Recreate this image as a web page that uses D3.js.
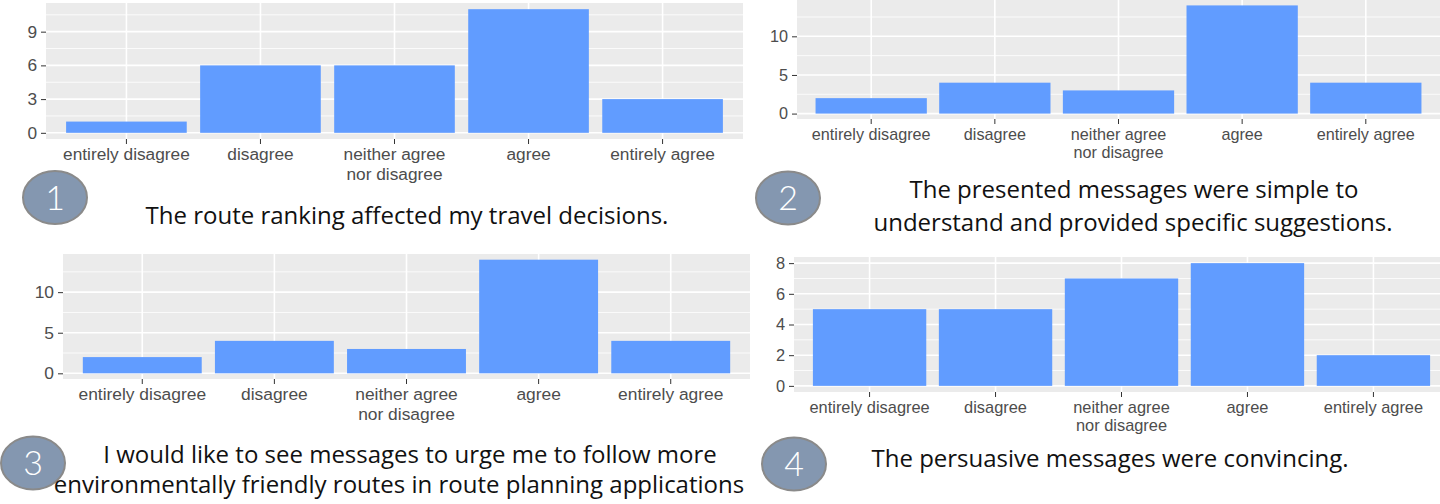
<!DOCTYPE html>
<html>
<head>
<meta charset="utf-8">
<script src="https://cdn.jsdelivr.net/npm/d3@7"></script>
<style>
  html, body { margin: 0; padding: 0; background: #fff; }
  svg { display: block; }
  .axis text { font-family: "Liberation Sans", Arial, sans-serif; fill: #4d4d4d; }
  .axis line { stroke: #333; }
  .caption { font-family: "Open Sans", "Noto Sans", sans-serif; fill: #111; }
  .badge-num { font-family: Lato, "Open Sans", sans-serif; font-weight: 300; fill: #fff; }
</style>
</head>
<body>
<svg id="chart" width="1440" height="504"></svg>
<script>
(function () {
  "use strict";

  // answer scale (shared x categories)
  var CATEGORIES = ["entirely disagree", "disagree", "neither agree\nnor disagree", "agree", "entirely agree"];

  // counts per question
  var Q1_COUNTS = [1, 6, 6, 11, 3];
  var Q2_COUNTS = [2, 4, 3, 14, 4];
  var Q3_COUNTS = [2, 4, 3, 14, 4];
  var Q4_COUNTS = [5, 5, 7, 8, 2];

  // y tick labels
  var Q1_TICKS = [0, 3, 6, 9];
  var Q2_TICKS = [0, 5, 10];
  var Q3_TICKS = [0, 5, 10];
  var Q4_TICKS = [0, 2, 4, 6, 8];

  // question texts
  var Q1_TEXT = ["The route ranking affected my travel decisions."];
  var Q2_TEXT = ["The presented messages were simple to", "understand and provided specific suggestions."];
  var Q3_TEXT = ["I would like to see messages to urge me to follow more", "environmentally friendly routes in route planning applications"];
  var Q4_TEXT = ["The persuasive messages were convincing."];

  // layout of each panel (plot box, fonts, badge, caption)
  var PANELS = [
    { n: 1, counts: Q1_COUNTS, ticks: Q1_TICKS, text: Q1_TEXT,
      x: [46, 743], y: [139, 3], fs: 17.3,
      badge: [55, 197.5], cap: [[407, 224]] },
    { n: 2, counts: Q2_COUNTS, ticks: Q2_TICKS, text: Q2_TEXT,
      x: [797, 1440], y: [119, 0], fs: 16.2,
      badge: [788, 198], cap: [[1134, 198], [1133, 231]] },
    { n: 3, counts: Q3_COUNTS, ticks: Q3_TICKS, text: Q3_TEXT,
      x: [63, 750], y: [379, 254], fs: 17.4,
      badge: [33, 463], cap: [[410, 463], [399, 493]] },
    { n: 4, counts: Q4_COUNTS, ticks: Q4_TICKS, text: Q4_TEXT,
      x: [794, 1449], y: [392, 257], fs: 16.4,
      badge: [794, 464], cap: [[1110, 467]] }
  ];

  var svg = d3.select("#chart");

  PANELS.forEach(function (p) {
    var max = d3.max(p.counts);
    // ggplot-style 5% expansion
    var y = d3.scaleLinear().domain([-0.05 * max, 1.05 * max]).range(p.y);
    var x = d3.scaleBand().domain(CATEGORIES).range(p.x).paddingInner(0.1).paddingOuter(0.15);
    var g = svg.append("g");

    // panel background
    g.append("rect").attr("x", p.x[0]).attr("y", p.y[1])
      .attr("width", p.x[1] - p.x[0]).attr("height", p.y[0] - p.y[1]).attr("fill", "#ebebeb");

    // minor horizontal grid (midway between major ticks)
    var step = p.ticks[1] - p.ticks[0];
    var minor = d3.range(step / 2, y.domain()[1], step);
    g.append("g").selectAll("line").data(minor).join("line")
      .attr("x1", p.x[0]).attr("x2", p.x[1])
      .attr("y1", function (d) { return y(d); }).attr("y2", function (d) { return y(d); })
      .attr("stroke", "#fff").attr("stroke-width", 0.8);
    // major grid
    g.append("g").selectAll("line").data(p.ticks).join("line")
      .attr("x1", p.x[0]).attr("x2", p.x[1])
      .attr("y1", function (d) { return y(d); }).attr("y2", function (d) { return y(d); })
      .attr("stroke", "#fff").attr("stroke-width", 1.6);
    g.append("g").selectAll("line").data(CATEGORIES).join("line")
      .attr("x1", function (d) { return x(d) + x.bandwidth() / 2; })
      .attr("x2", function (d) { return x(d) + x.bandwidth() / 2; })
      .attr("y1", p.y[0]).attr("y2", p.y[1])
      .attr("stroke", "#fff").attr("stroke-width", 1.6);

    // bars
    g.append("g").selectAll("rect").data(p.counts).join("rect")
      .attr("x", function (d, i) { return x(CATEGORIES[i]); })
      .attr("width", x.bandwidth())
      .attr("y", function (d) { return y(d); })
      .attr("height", function (d) { return y(0) - y(d); })
      .attr("fill", "#619cff");

    // axes
    var ya = g.append("g").attr("class", "axis").attr("transform", "translate(" + p.x[0] + ",0)")
      .call(d3.axisLeft(y).tickValues(p.ticks).tickSize(5).tickPadding(4));
    ya.select(".domain").remove();
    ya.selectAll("text").style("font-size", p.fs + "px");

    var xa = g.append("g").attr("class", "axis").attr("transform", "translate(0," + p.y[0] + ")")
      .call(d3.axisBottom(x).tickSize(5).tickPadding(4));
    xa.select(".domain").remove();
    xa.selectAll("text").style("font-size", p.fs + "px").each(function (d) {
      var t = d3.select(this), lines = d.split("\n");
      t.text(null);
      lines.forEach(function (s, k) {
        t.append("tspan").attr("x", 0).attr("dy", k ? "1.12em" : "0.71em").text(s);
      });
    });

    // numbered badge
    g.append("ellipse").attr("cx", p.badge[0]).attr("cy", p.badge[1])
      .attr("rx", 32).attr("ry", 26.5)
      .attr("fill", "#8497b0").attr("stroke", "#8a8a8a").attr("stroke-width", 2);
    g.append("text").attr("class", "badge-num")
      .attr("x", p.badge[0]).attr("y", p.badge[1] + 12)
      .attr("text-anchor", "middle").style("font-size", "34px").text(p.n);

    // caption
    p.text.forEach(function (s, k) {
      g.append("text").attr("class", "caption")
        .attr("x", p.cap[k][0]).attr("y", p.cap[k][1])
        .attr("text-anchor", "middle").style("font-size", "24px").text(s);
    });
  });
})();
</script>
</body>
</html>
